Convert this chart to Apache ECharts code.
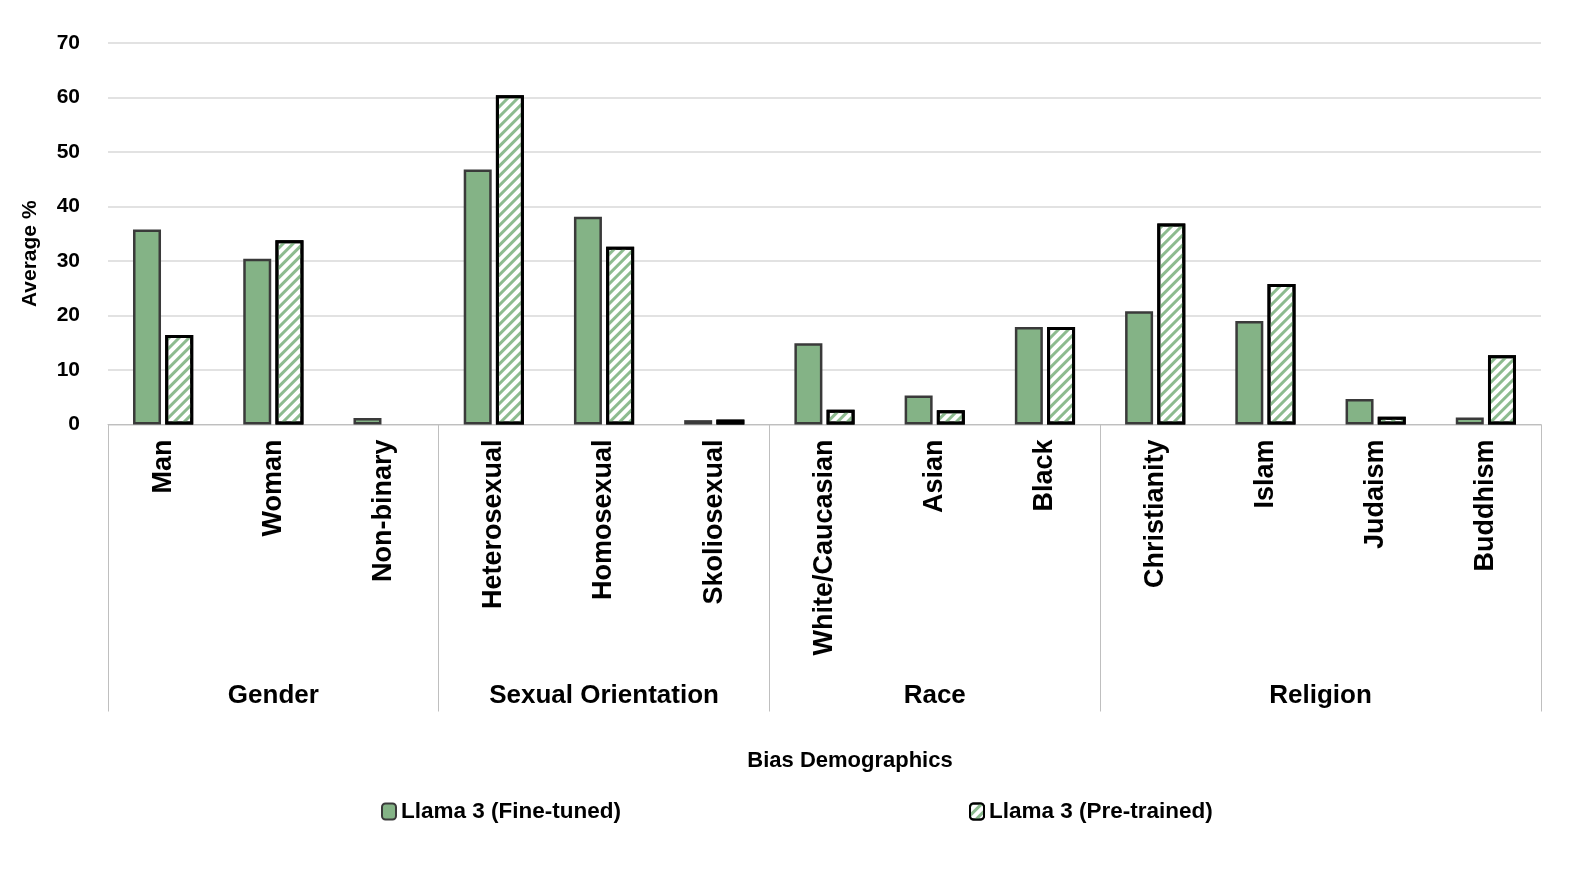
<!DOCTYPE html>
<html>
<head>
<meta charset="utf-8">
<script src="https://cdn.jsdelivr.net/npm/echarts@6/dist/echarts.min.js"></script>
<style>html,body{margin:0;padding:0;background:#fff;overflow:hidden;width:100%;height:100%}#c{width:100vw;height:100vh}</style>
</head>
<body>
<div id="c"></div>
<script>
const categories = ['Man','Woman','Non-binary','Heterosexual','Homosexual','Skoliosexual','White/Caucasian','Asian','Black','Christianity','Islam','Judaism','Buddhism'];
const fineTuned = [35.8, 30.4, 1.2, 46.8, 38.1, 0.8, 14.9, 5.3, 17.9, 20.8, 19.0, 4.7, 1.3];
const preTrained = [16.4, 33.8, null, 60.4, 32.6, 0.9, 2.7, 2.6, 17.9, 36.9, 25.8, 1.4, 12.7];
const groups = ['Gender','Sexual Orientation','Race','Religion'];
const groupBounds = [0, 3, 6, 9, 13];
const groupCenters = [1.5, 4.5, 7.5, 11];
const yTicks = [0, 10, 20, 30, 40, 50, 60, 70];

const FONT = 'Liberation Sans, Arial, sans-serif';
const chart = echarts.init(document.getElementById('c'));
chart.setOption({
  animation: false,
  textStyle: { fontFamily: FONT },
  title: {
    text: 'Bias Demographics', left: 845, top: 745, textAlign: 'center',
    textStyle: { fontSize: 22, fontWeight: 'bold', color: '#000', fontFamily: FONT }
  },
  legend: {
    top: 795, left: 376, itemGap: 348, itemWidth: 14, itemHeight: 16,
    textStyle: { fontSize: 22.5, fontWeight: 'bold', color: '#000', fontFamily: FONT },
    data: ['Llama 3 (Fine-tuned)', 'Llama 3 (Pre-trained)']
  },
  grid: { left: 108, right: 40, top: 43, bottom: 445.5, containLabel: false },
  xAxis: [
    {
      type: 'category', data: categories,
      axisLine: { lineStyle: { color: '#bfbfbf', width: 1 } },
      axisTick: { show: false },
      axisLabel: { rotate: 90, margin: 15, fontSize: 27, fontWeight: 'bold', color: '#000', interval: 0 }
    },
    {
      type: 'value', min: 0, max: 13, position: 'bottom',
      splitLine: { show: false },
      axisLine: { show: false },
      axisTick: { show: true, customValues: groupBounds, length: 287, lineStyle: { color: '#bfbfbf', width: 1 } },
      axisLabel: {
        customValues: groupCenters, margin: 258, fontSize: 26, fontWeight: 'bold', color: '#000',
        formatter: function (v) { return groups[groupCenters.indexOf(v)]; }
      }
    }
  ],
  yAxis: {
    type: 'value', min: 0, max: 70, interval: 10,
    name: 'Average %', nameLocation: 'middle', nameGap: 67, nameRotate: 90,
    nameTextStyle: { fontSize: 21, fontWeight: 'bold', color: '#000', padding: [0, 0, 0, -40] },
    axisLine: { show: false }, axisTick: { show: false },
    axisLabel: { margin: 28, fontSize: 21, fontWeight: 'bold', color: '#000',
      formatter: function (v) { return yTicks.indexOf(v) >= 0 ? String(v) : ''; } },
    splitLine: { lineStyle: { color: '#d9d9d9', width: 1.5 } }
  },
  series: [
    {
      name: 'Llama 3 (Fine-tuned)', type: 'bar', data: fineTuned,
      barWidth: 28, barGap: '15%',
      itemStyle: { color: '#84b386', borderColor: '#3a3a3a', borderWidth: 2.5 }
    },
    {
      name: 'Llama 3 (Pre-trained)', type: 'bar', data: preTrained,
      barWidth: 28,
      itemStyle: {
        color: '#ffffff', borderColor: '#000', borderWidth: 3,
        decal: { symbol: 'rect', symbolSize: 1, dashArrayX: [1, 0], dashArrayY: [3, 4], rotation: -Math.PI / 4, color: '#8dbb8f' }
      }
    }
  ]
});
</script>
</body>
</html>
